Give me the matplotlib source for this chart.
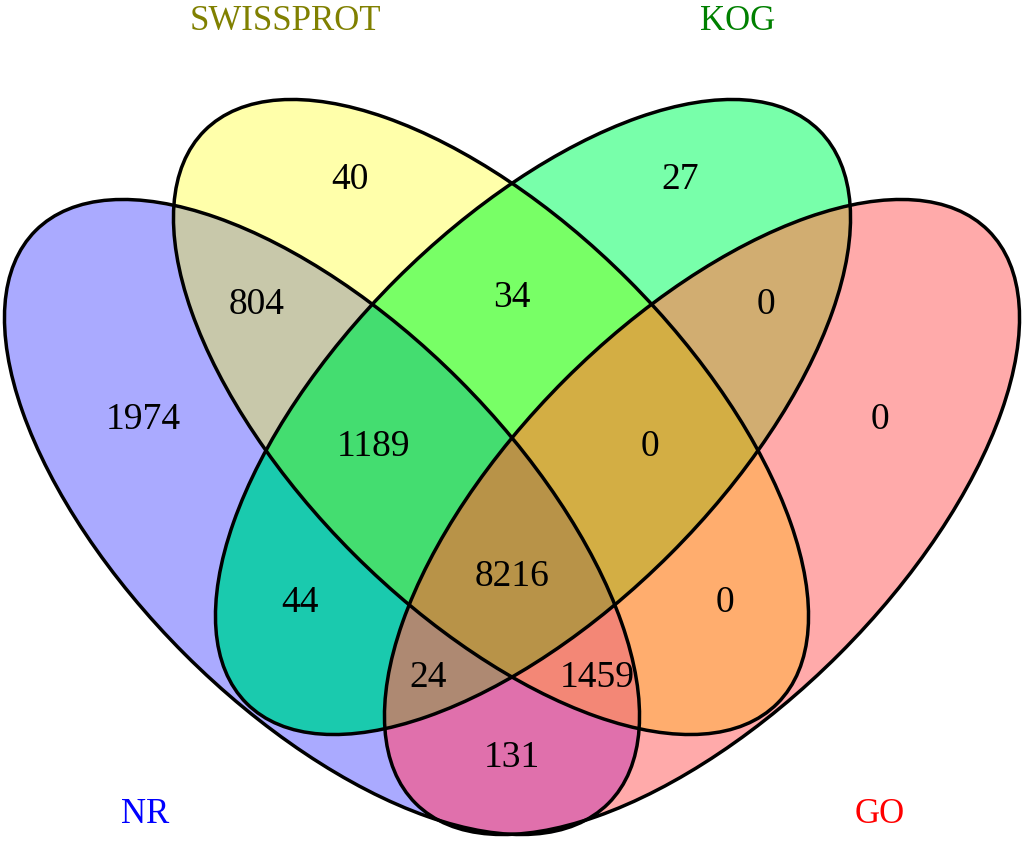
import matplotlib
matplotlib.use("Agg")
import matplotlib.pyplot as plt
from matplotlib.patches import Ellipse
import numpy as np

# four sets
set_names = ["NR", "SWISSPROT", "KOG", "GO"]
set_colors = ["#0000FF", "#808000", "#008000", "#FF0000"]

# region membership (NR, SW, KOG, GO) and counts
regions = [
    (1, 0, 0, 0), (0, 1, 0, 0), (0, 0, 1, 0), (0, 0, 0, 1),
    (1, 1, 0, 0), (0, 1, 1, 0), (0, 0, 1, 1), (1, 0, 1, 0),
    (0, 1, 0, 1), (1, 0, 0, 1), (1, 1, 1, 0), (0, 1, 1, 1),
    (1, 1, 0, 1), (1, 0, 1, 1), (1, 1, 1, 1),
]
counts = [1974, 40, 27, 0, 804, 34, 0, 44, 0, 131, 1189, 0, 1459, 24, 8216]
region_colors = [
    "#AAAAFF", "#FFFFAA", "#78FFAA", "#FFAAAA",
    "#C8C8AA", "#78FF66", "#D2AD71", "#1BCAAE",
    "#FFAD6E", "#E070AC", "#45DD70", "#D4AE44",
    "#F38776", "#AE8A72", "#B99348",
]

# layout (pixel coordinates, y down)
ell_centers = [(322, 518), (491, 418), (533, 418), (702, 518)]
ell_angles = [45, 45, -45, -45]
ell_a, ell_b = 405, 194
label_pos = [
    (143, 420), (350, 180), (680, 180), (880, 420),
    (257, 305), (512, 298), (766, 305), (300, 603),
    (725, 603), (512, 758), (373, 447), (650, 447),
    (597, 678), (428, 678), (512, 577),
]
name_pos = [(145, 815), (285, 22), (738, 22), (880, 815)]

W, H = 1024, 845
fig = plt.figure(figsize=(W / 100, H / 100), dpi=100)
ax = fig.add_axes([0, 0, 1, 1])
ax.set_xlim(0, W)
ax.set_ylim(H, 0)
ax.axis("off")

# fill each region through membership masks
scale = 2
xs = (np.arange(W * scale) + 0.5) / scale
ys = (np.arange(H * scale) + 0.5) / scale
X, Y = np.meshgrid(xs, ys)
inside = []
for (cx, cy), ang in zip(ell_centers, ell_angles):
    t = np.deg2rad(ang)
    dx, dy = X - cx, Y - cy
    u = dx * np.cos(t) + dy * np.sin(t)
    v = -dx * np.sin(t) + dy * np.cos(t)
    inside.append((u / ell_a) ** 2 + (v / ell_b) ** 2 <= 1)

img = np.ones((H * scale, W * scale, 3))
for memb, col in zip(regions, region_colors):
    m = np.ones_like(X, dtype=bool)
    for k in range(4):
        m &= inside[k] if memb[k] else ~inside[k]
    img[m] = matplotlib.colors.to_rgb(col)
ax.imshow(img, extent=(0, W, H, 0), interpolation="antialiased")

for (cx, cy), ang in zip(ell_centers, ell_angles):
    ax.add_patch(Ellipse((cx, cy), 2 * ell_a, 2 * ell_b, angle=ang,
                         fill=False, edgecolor="black", lw=2.5))

serif = ["Liberation Serif", "DejaVu Serif"]
for (x, y), n in zip(label_pos, counts):
    ax.text(x, y, str(n), ha="center", va="center", fontsize=27,
            family=serif, color="black")

for (x, y), name, col in zip(name_pos, set_names, set_colors):
    ax.text(x, y, name, ha="center", va="center", fontsize=25,
            family=serif, color=col)

fig.savefig("out.png", dpi=100)
